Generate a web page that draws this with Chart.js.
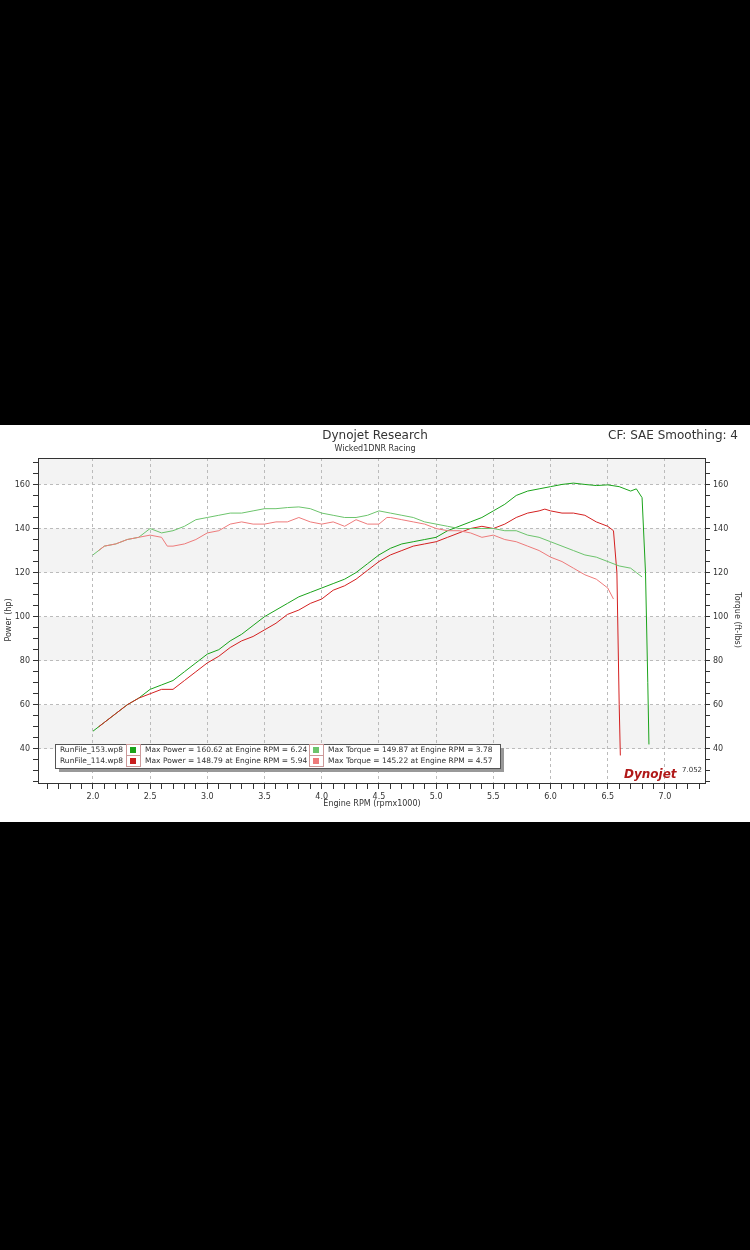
<!DOCTYPE html>
<html>
<head>
<meta charset="utf-8">
<script src="https://cdn.jsdelivr.net/npm/chart.js@4.4.1/dist/chart.umd.min.js"></script>
<style>
  html, body { margin: 0; padding: 0; background: #000; }
  #wrap { position: absolute; left: 0; top: 425px; width: 750px; height: 397px; background: #fff; }
</style>
</head>
<body>
<div id="wrap"><canvas id="myChart" width="750" height="397"></canvas></div>
<script>
const ctx = document.getElementById('myChart');

// run 153 (green) power
const rpmPow153 = [2.0,2.1,2.2,2.3,2.4,2.5,2.6,2.7,2.8,2.9,3.0,3.1,3.2,3.3,3.4,3.5,3.6,3.7,3.8,3.9,4.0,4.1,4.2,4.3,4.4,4.5,4.6,4.7,4.8,4.9,5.0,5.1,5.2,5.3,5.4,5.5,5.6,5.7,5.8,5.9,6.0,6.1,6.2,6.3,6.4,6.5,6.6,6.7,6.75,6.8,6.83,6.85,6.86];
const pow153 = [48,52,56,60,63,67,69,71,75,79,83,85,89,92,96,100,103,106,109,111,113,115,117,120,124,128,131,133,134,135,136,139,141,143,145,148,151,155,157,158,159,160,160.6,160,159.5,159.8,159,157,158,154,120,70,42];

// run 114 (red) power
const rpmPow114 = [2.05,2.1,2.2,2.3,2.4,2.5,2.6,2.7,2.8,2.9,3.0,3.1,3.2,3.3,3.4,3.5,3.6,3.7,3.8,3.9,4.0,4.1,4.2,4.3,4.4,4.5,4.6,4.7,4.8,4.9,5.0,5.1,5.2,5.3,5.4,5.5,5.6,5.7,5.8,5.9,5.95,6.0,6.1,6.2,6.3,6.4,6.5,6.55,6.58,6.6,6.61];
const pow114 = [50,52,56,60,63,65,67,67,71,75,79,82,86,89,91,94,97,101,103,106,108,112,114,117,121,125,128,130,132,133,134,136,138,140,141,140,142,145,147,148,148.8,148,147,147,146,143,141,139,120,60,37];

// run 153 torque
const rpmTq153 = [2.0,2.1,2.2,2.3,2.4,2.5,2.6,2.7,2.8,2.9,3.0,3.1,3.2,3.3,3.4,3.5,3.6,3.7,3.8,3.9,4.0,4.1,4.2,4.3,4.4,4.5,4.6,4.7,4.8,4.9,5.0,5.1,5.2,5.3,5.4,5.5,5.6,5.7,5.8,5.9,6.0,6.1,6.2,6.3,6.4,6.5,6.6,6.7,6.75,6.8];
const tq153 = [128,132,133,135,136,140,138,139,141,144,145,146,147,147,148,149,149,149.5,149.8,149,147,146,145,145,146,148,147,146,145,143,142,141,140,140,140,140,139,139,137,136,134,132,130,128,127,125,123,122,120,118];

// run 114 torque
const rpmTq114 = [2.05,2.1,2.2,2.3,2.4,2.5,2.6,2.65,2.7,2.8,2.9,3.0,3.1,3.2,3.3,3.4,3.5,3.6,3.7,3.8,3.9,4.0,4.1,4.2,4.3,4.4,4.5,4.57,4.6,4.7,4.8,4.9,5.0,5.1,5.2,5.3,5.4,5.5,5.6,5.7,5.8,5.9,6.0,6.1,6.2,6.3,6.4,6.5,6.55];
const tq114 = [130,132,133,135,136,137,136,132,132,133,135,138,139,142,143,142,142,143,143,145,143,142,143,141,144,142,142,145,145,144,143,142,140,139,139,138,136,137,135,134,132,130,127,125,122,119,117,113,108];

const legendRows = [
  ['RunFile_153.wp8', '#1aa31a', 'Max Power = 160.62 at Engine RPM = 6.24', '#6cc46c', 'Max Torque = 149.87 at Engine RPM = 3.78'],
  ['RunFile_114.wp8', '#c81e1e', 'Max Power = 148.79 at Engine RPM = 5.94', '#ee7b7b', 'Max Torque = 145.22 at Engine RPM = 4.57']
];

function pts(xs, ys) {
  return xs.map((x, i) => ({ x: x, y: ys[i] }));
}

const bands = {
  id: 'bands',
  beforeDraw(chart) {
    const c = chart.ctx, a = chart.chartArea, y = chart.scales.y;
    c.save();
    c.fillStyle = '#f3f3f3';
    [[160, 175], [120, 140], [80, 100], [40, 60]].forEach(b => {
      const t = Math.max(y.getPixelForValue(b[1]), a.top);
      const bt = y.getPixelForValue(b[0]);
      c.fillRect(a.left, t, a.right - a.left, bt - t);
    });
    c.restore();
  },
  afterDraw(chart) {
    const c = chart.ctx, a = chart.chartArea;
    c.save();
    c.strokeStyle = '#333';
    c.lineWidth = 1;
    c.strokeRect(a.left + 0.5, a.top + 0.5, a.right - a.left, a.bottom - a.top);
    // titles
    c.fillStyle = '#333';
    c.textBaseline = 'middle';
    c.textAlign = 'center';
    c.font = '12px "DejaVu Sans"';
    c.fillText('Dynojet Research', 375, 11);
    c.font = '8px "DejaVu Sans"';
    c.fillText('Wicked1DNR Racing', 375, 24);
    c.textAlign = 'right';
    c.font = '12px "DejaVu Sans"';
    c.fillText('CF: SAE Smoothing: 4', 738, 11);
    c.textAlign = 'center';
    c.font = '8px "DejaVu Sans"';
    c.fillText('Engine RPM (rpmx1000)', 372, 379);
    c.save();
    c.translate(9, 195); c.rotate(-Math.PI / 2);
    c.fillText('Power (hp)', 0, 0);
    c.restore();
    c.save();
    c.translate(737, 195); c.rotate(Math.PI / 2);
    c.fillText('Torque (ft-lbs)', 0, 0);
    c.restore();
    // legend box
    const lx = 55, ly = 319;
    c.fillStyle = '#999';
    c.fillRect(lx + 4, ly + 4, 445, 24);
    c.fillStyle = '#fff';
    c.fillRect(lx, ly, 445, 24);
    c.strokeStyle = '#555';
    c.strokeRect(lx + 0.5, ly + 0.5, 445, 24);
    c.textAlign = 'left';
    c.font = '7.5px "DejaVu Sans"';
    legendRows.forEach((r, i) => {
      const yy = ly + 6 + i * 11;
      c.fillStyle = '#333';
      c.fillText(r[0], lx + 5, yy);
      c.fillStyle = r[1]; c.fillRect(lx + 75, yy - 3, 6, 6);
      c.strokeStyle = '#c99'; c.strokeRect(lx + 71.5, yy - 5.5, 14, 11);
      c.fillStyle = '#333';
      c.fillText(r[2], lx + 90, yy);
      c.fillStyle = r[3]; c.fillRect(lx + 258, yy - 3, 6, 6);
      c.strokeStyle = '#c99'; c.strokeRect(lx + 254.5, yy - 5.5, 14, 11);
      c.fillStyle = '#333';
      c.fillText(r[4], lx + 273, yy);
    });
    // logo
    c.font = 'italic bold 12px "DejaVu Sans"';
    c.fillStyle = '#b01818';
    c.fillText('Dynojet', 624, 350);
    c.font = '7px "DejaVu Sans"';
    c.fillStyle = '#333';
    c.fillText('7.052', 682, 345);
    c.restore();
  }
};

function line(label, data, color) {
  return { label: label, data: data, borderColor: color, borderWidth: 1, pointRadius: 0, tension: 0, fill: false };
}

const t = {
  type: 'line',
  data: {
    datasets: [
      line('tq114', pts(rpmTq114, tq114), '#ee7b7b'),
      line('tq153', pts(rpmTq153, tq153), '#6cc46c'),
      line('pow114', pts(rpmPow114, pow114), '#d42020'),
      line('pow153', pts(rpmPow153, pow153), '#1aa31a')
    ]
  },
  options: {
    responsive: false,
    animation: false,
    layout: { padding: { top: 33, left: 0, right: 0, bottom: 0 } },
    plugins: { legend: { display: false }, tooltip: { enabled: false } },
    scales: {
      x: {
        type: 'linear', min: 1.52, max: 7.35,
        afterFit: s => { s.height = 39; },
        afterBuildTicks: s => {
          const tk = [];
          for (let i = 16; i <= 73; i++) tk.push({ value: i / 10 });
          s.ticks = tk;
        },
        ticks: {
          autoSkip: false, maxRotation: 0, color: '#333', font: { size: 8, family: 'DejaVu Sans' },
          callback: v => (Math.round(v * 10) % 5 === 0 ? v.toFixed(1) : '')
        },
        grid: {
          color: c => (Math.round(c.tick.value * 10) % 5 === 0 && c.tick.value >= 2 ? '#bbb' : 'rgba(0,0,0,0)'),
          tickColor: '#333', tickLength: 6, drawTicks: true
        },
        border: { display: false, dash: [3, 3] }
      },
      y: {
        min: 24.5, max: 172, position: 'left',
        afterFit: s => { s.width = 38; },
        afterBuildTicks: s => {
          const tk = [];
          for (let v = 25; v <= 170; v += 5) tk.push({ value: v });
          s.ticks = tk;
        },
        ticks: {
          autoSkip: false, color: '#333', font: { size: 8, family: 'DejaVu Sans' },
          callback: v => (v % 20 === 0 && v >= 40 ? v : '')
        },
        grid: {
          color: c => (c.tick.value % 20 === 0 && c.tick.value >= 40 ? '#bbb' : 'rgba(0,0,0,0)'),
          tickColor: '#333', tickLength: 5
        },
        border: { display: false, dash: [3, 3] }
      },
      y2: {
        min: 24.5, max: 172, position: 'right',
        afterFit: s => { s.width = 45; },
        afterBuildTicks: s => {
          const tk = [];
          for (let v = 25; v <= 170; v += 5) tk.push({ value: v });
          s.ticks = tk;
        },
        ticks: {
          autoSkip: false, color: '#333', font: { size: 8, family: 'DejaVu Sans' },
          callback: v => (v % 20 === 0 && v >= 40 ? v : '')
        },
        grid: { drawOnChartArea: false, tickColor: '#333', tickLength: 5 },
        border: { display: false }
      }
    }
  },
  plugins: [bands]
};

let cc = new Chart(ctx, t);
</script>
</body>
</html>
